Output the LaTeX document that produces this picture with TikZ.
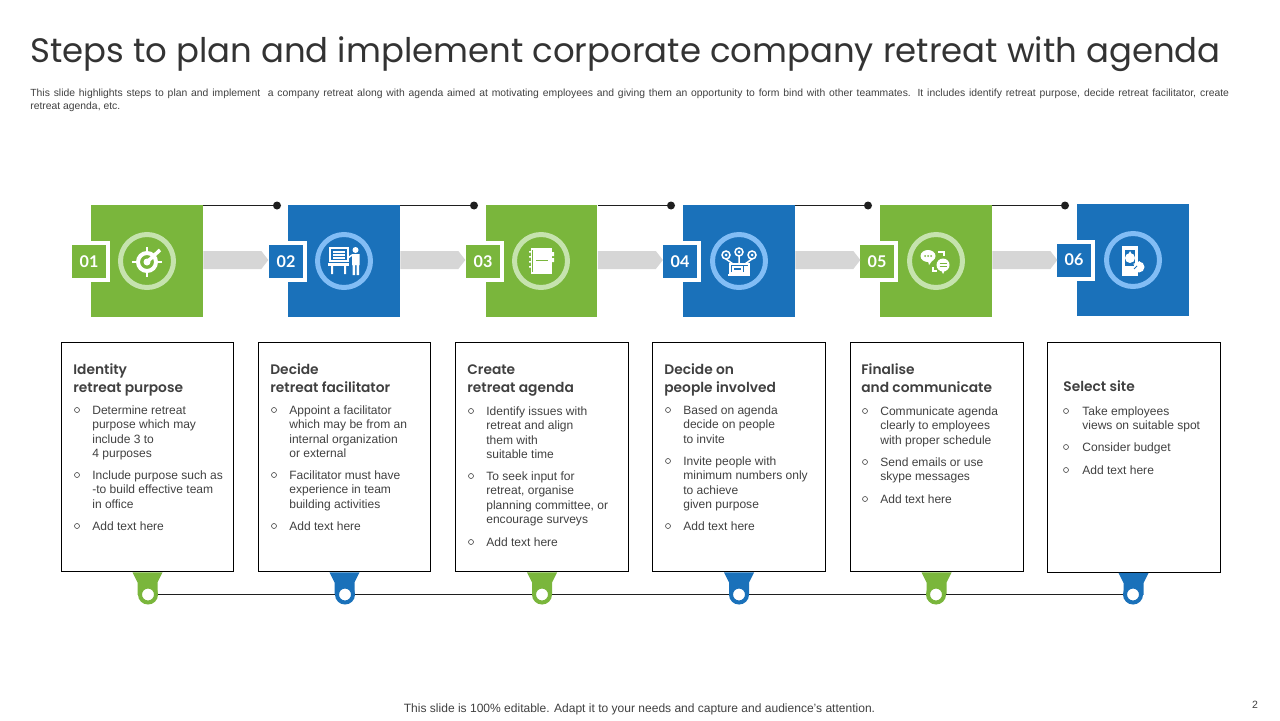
\documentclass[tikz,border=0pt]{standalone}
\usepackage{fontspec}
\usepackage{xcolor}
\setmainfont{Liberation Sans}
\newfontfamily\headfont{Poppins}[BoldFont={Poppins SemiBold}]
\newfontfamily\numfont{Lato}
\usetikzlibrary{calc,positioning}
\definecolor{stepgreen}{HTML}{7AB63C}
\definecolor{stepblue}{HTML}{1A71BA}
\definecolor{ringgreen}{HTML}{C6E3AE}
\definecolor{ringblue}{HTML}{82BDF5}
\definecolor{arrowgray}{HTML}{D6D6D6}
\definecolor{textgray}{HTML}{404040}
\definecolor{linedark}{HTML}{1F1F1F}
\tikzset{
  square/.style={minimum size=2.24cm,inner sep=0pt,fill=#1},
  numbox/.style={minimum width=0.76cm,minimum height=0.74cm,inner sep=0pt,fill=#1,draw=white,line width=0.08cm,
    text=white,font=\numfont\bfseries\fontsize{9.2}{10}\selectfont},
  ring/.style={circle,minimum size=1.06cm,inner sep=0pt,draw=#1,line width=0.1cm},
  dot/.style={circle,minimum size=0.16cm,inner sep=0pt,fill=linedark},
  card/.style={minimum width=3.46cm,minimum height=4.6cm,inner sep=0pt,draw=black,line width=0.02cm},
  heading/.style={anchor=north west,inner sep=0pt,align=left,text=textgray,font=\headfont\bfseries\fontsize{7.85}{10.2}\selectfont},
  item/.style={anchor=north west,inner sep=0pt,align=left,text=textgray,font=\fontsize{6.85}{8.25}\selectfont},
  bullet/.style={circle,minimum size=0.1cm,inner sep=0pt,draw=textgray,line width=0.012cm},
  tagdot/.style={circle,minimum size=0.32cm,inner sep=0pt,fill=white,draw=#1,line width=0.08cm},
  arrowbody/.style={fill=arrowgray},
  wire/.style={draw=linedark,line width=0.02cm},
  icon/.style={draw=white,line width=0.03cm,fill=none}
}
\begin{document}
\begin{tikzpicture}[x=0.02cm,y=-0.02cm]
\useasboundingbox (0,0) rectangle (1280,720);
    % header
    \node [anchor=west,inner sep=0pt,text=black!80,font=\headfont\fontsize{19.3}{24}\selectfont] (title) at (30,54.5) {Steps to plan and implement corporate company retreat with agenda};
    \node [anchor=north west,inner sep=0pt,text width=23.98cm,align=justify,text=textgray,font=\fontsize{5.9}{7.4}\selectfont] (intro) at (30,89) {This slide highlights steps to plan and implement\ \ a company retreat along with agenda aimed at motivating employees and giving them an opportunity to form bind with other teammates. It includes identify retreat purpose, decide retreat facilitator, create\linebreak retreat agenda, etc.};
    % squares
    \node [square=stepgreen] (sq1) at (147,261) {};
    \node [square=stepblue] (sq2) at (344,261) {};
    \node [square=stepgreen] (sq3) at (541.5,261) {};
    \node [square=stepblue] (sq4) at (739,261) {};
    \node [square=stepgreen] (sq5) at (936,261) {};
    \node [square=stepblue] (sq6) at (1133,260) {};
    % top dots
    \node [dot] (dot1) at (277,205.5) {};
    \node [dot] (dot2) at (474,205.5) {};
    \node [dot] (dot3) at (671,205.5) {};
    \node [dot] (dot4) at (868,205.5) {};
    \node [dot] (dot5) at (1065,205.5) {};
    \draw [wire] (sq1.north east |- dot1) -- (dot1);
    \draw [wire] (sq2.north east |- dot2) -- (dot2);
    \draw [wire] (sq3.north east |- dot3) -- (dot3);
    \draw [wire] (sq4.north east |- dot4) -- (dot4);
    \draw [wire] (sq5.north east |- dot5) -- (dot5);
    % numbers
    \node [numbox=stepgreen] (num1) at (89,261.5) {01};
    \node [numbox=stepblue] (num2) at (286,261.5) {02};
    \node [numbox=stepgreen] (num3) at (483,261.5) {03};
    \node [numbox=stepblue] (num4) at (680,261.5) {04};
    \node [numbox=stepgreen] (num5) at (877,261.5) {05};
    \node [numbox=stepblue] (num6) at (1074,260) {06};
    % gray arrows
    \fill [arrowbody] (sq1.east) ++(0,-10) -- ++(58,0) -- ++(7,9) -- ++(-7,9) -- ++(-58,0) -- cycle;
    \fill [arrowbody] (sq2.east) ++(0,-10) -- ++(58,0) -- ++(7,9) -- ++(-7,9) -- ++(-58,0) -- cycle;
    \fill [arrowbody] (sq3.east) ++(0,-10) -- ++(58,0) -- ++(7,9) -- ++(-7,9) -- ++(-58,0) -- cycle;
    \fill [arrowbody] (sq4.east) ++(0,-10) -- ++(58,0) -- ++(7,9) -- ++(-7,9) -- ++(-58,0) -- cycle;
    \fill [arrowbody] (sq5.east) ++(0,-10) -- ++(58,0) -- ++(7,9) -- ++(-7,9) -- ++(-58,0) -- cycle;
    % rings
    \node [ring=ringgreen] (ring1) at (147,261) {};
    \node [ring=ringblue] (ring2) at (344,261) {};
    \node [ring=ringgreen] (ring3) at (541,261) {};
    \node [ring=ringblue] (ring4) at (739,261) {};
    \node [ring=ringgreen] (ring5) at (936,261) {};
    \node [ring=ringblue] (ring6) at (1133,260) {};
    % icon target
    \begin{scope}[shift={(ring1.center)}]
      \draw [icon,line width=0.08cm] (0,1) circle (9);
      \fill [white] (0,1) circle (3.5);
      \draw [icon] (-15,1) -- (-9,1) (15,1) -- (9,1) (0,-14) -- (0,-8) (0,16) -- (0,10);
      \draw [icon,line width=0.07cm] (0,1) -- (13,-11);
    \end{scope}
    % icon presenter
    \begin{scope}[shift={(ring2.center)}]
      \draw [icon] (-14,-13) rectangle (4,0);
      \draw [icon] (-11,-9) -- (1,-9) (-11,-6) -- (1,-6) (-11,-3) -- (1,-3);
      \fill [white] (-16,2) rectangle (5,5);
      \fill [white] (-13,5) rectangle (-11,13) (0,5) rectangle (2,13);
      \fill [white] (11.5,-11) circle (3);
      \fill [white] (8,-7) rectangle (15.5,4) (8.5,4) rectangle (11,14) (12.5,4) rectangle (15,14);
      \draw [icon] (8,-6) -- (4,-3);
    \end{scope}
    % icon notebook
    \begin{scope}[shift={(ring3.center)}]
      \fill [white] (-10,-13) rectangle (11,13);
      \fill [white] (11,-9) rectangle (13,-5) (11,-3) rectangle (13,1);
      \fill [white] (-12,-10) rectangle (-10,-8.5) (-12,-5) rectangle (-10,-3.5) (-12,0) rectangle (-10,1.5) (-12,5) rectangle (-10,6.5);
      \draw [stepgreen,line width=0.02cm] (-5,-1) -- (7,-1);
      \draw [stepgreen,line width=0.01cm] (-9,-11) -- (-9,11);
    \end{scope}
    % icon people
    \begin{scope}[shift={(ring4.center)}]
      \draw [icon] (-13,-6) circle (4) (0,-9) circle (4) (13,-6) circle (4);
      \fill [white] (-13,-6) circle (1.5) (0,-9) circle (1.5) (13,-6) circle (1.5);
      \draw [icon] (-13,-2) -- (-6,3) (0,-5) -- (0,3) (13,-2) -- (6,3);
      \draw [icon] (-9,3) rectangle (10,12);
      \draw [icon] (-6,6) rectangle (3,10) (6,6) rectangle (8,10);
      \draw [icon] (-11,14) -- (11,14);
    \end{scope}
    % icon chat
    \begin{scope}[shift={(ring5.center)}]
      \fill [white] (-8,-5) ellipse (7.5 and 6) (-8,0) -- (-4,0) -- (-7,4) -- cycle;
      \fill [stepgreen] (-11,-5) circle (1) (-8,-5) circle (1) (-5,-5) circle (1);
      \fill [white] (7,4) circle (6.5) (5,9) -- (9,9) -- (7,13) -- cycle;
      \draw [stepgreen,line width=0.02cm] (3.5,2.5) -- (10.5,2.5) (3.5,5.5) -- (10.5,5.5);
      \draw [icon] (2,-9) -- (8,-9) -- (8,-5) (-3,6) -- (-3,10) -- (1,10);
    \end{scope}
    % icon phone
    \begin{scope}[shift={(ring6.center)}]
      \draw [icon,fill=white] (-10,-13) rectangle (4,15);
      \fill [stepblue] (-8,-10) rectangle (2,6);
      \fill [white] (-3,-2) circle (5) (-3,-9) -- (-1,-5) -- (-5,-5) -- cycle;
      \fill [white] (6,7) circle (5.5) (0,4) -- (7,1) -- (5,7) -- cycle;
      \draw [stepblue,line width=0.02cm] (1,9) -- (4,6);
    \end{scope}
    % cards
    \node [card] (card1) at (147.5,457) {};
    \node [card] (card2) at (344.5,457) {};
    \node [card] (card3) at (542,457) {};
    \node [card] (card4) at (739,457) {};
    \node [card] (card5) at (936.5,457) {};
    \node [card] (card6) at (1133.5,457.5) {};
    % card 1
    \node [heading] (head1) at (73,363) {Identity\\retreat purpose};
    \node [bullet] (b11) at (77,410) {};
    \node [item] (t11) at (92,405) {Determine retreat\\purpose which may\\include 3 to\\4 purposes};
    \node [bullet] (b12) at (77,475) {};
    \node [item] (t12) at (92,470) {Include purpose such as\\-to build effective team\\in office};
    \node [bullet] (b13) at (77,526) {};
    \node [item] (t13) at (92,521) {Add text here};
    % card 2
    \node [heading] (head2) at (270,363) {Decide\\retreat facilitator};
    \node [bullet] (b21) at (274,410) {};
    \node [item] (t21) at (289,405) {Appoint a facilitator\\which may be from an\\internal organization\\or external};
    \node [bullet] (b22) at (274,475) {};
    \node [item] (t22) at (289,470) {Facilitator must have\\experience in team\\building activities};
    \node [bullet] (b23) at (274,526) {};
    \node [item] (t23) at (289,521) {Add text here};
    % card 3
    \node [heading] (head3) at (467,364) {Create\\retreat agenda};
    \node [bullet] (b31) at (471,411) {};
    \node [item] (t31) at (486,406) {Identify issues with\\retreat and align\\them with\\suitable time};
    \node [bullet] (b32) at (471,476) {};
    \node [item] (t32) at (486,471) {To seek input for\\retreat, organise\\planning committee, or\\encourage surveys};
    \node [bullet] (b33) at (471,542) {};
    \node [item] (t33) at (486,537) {Add text here};
    % card 4
    \node [heading] (head4) at (664,363) {Decide on\\people involved};
    \node [bullet] (b41) at (668,410) {};
    \node [item] (t41) at (683,405) {Based on agenda\\decide on people\\to invite};
    \node [bullet] (b42) at (668,461) {};
    \node [item] (t42) at (683,456) {Invite people with\\minimum numbers only\\to achieve\\given purpose};
    \node [bullet] (b43) at (668,526) {};
    \node [item] (t43) at (683,521) {Add text here};
    % card 5
    \node [heading] (head5) at (861,363) {Finalise\\and communicate};
    \node [bullet] (b51) at (865,411) {};
    \node [item] (t51) at (880,406) {Communicate agenda\\clearly to employees\\with proper schedule};
    \node [bullet] (b52) at (865,462) {};
    \node [item] (t52) at (880,457) {Send emails or use\\skype messages};
    \node [bullet] (b53) at (865,499) {};
    \node [item] (t53) at (880,494) {Add text here};
    % card 6
    \node [heading] (head6) at (1063,380) {Select site};
    \node [bullet] (b61) at (1066,411) {};
    \node [item] (t61) at (1082,406) {Take employees\\views on suitable spot};
    \node [bullet] (b62) at (1066,447) {};
    \node [item] (t62) at (1082,442) {Consider budget};
    \node [bullet] (b63) at (1066,470) {};
    \node [item] (t63) at (1082,465) {Add text here};
    % tags
    \fill [stepgreen] (card1.south) ++(-15,0) -- ++(30,0) -- ++(-5,10) -- ++(0,12.5) -- ++(-20,0) -- ++(0,-12.5) -- cycle;
    \fill [stepblue] (card2.south) ++(-15,0) -- ++(30,0) -- ++(-5,10) -- ++(0,12.5) -- ++(-20,0) -- ++(0,-12.5) -- cycle;
    \fill [stepgreen] (card3.south) ++(-15,0) -- ++(30,0) -- ++(-5,10) -- ++(0,12.5) -- ++(-20,0) -- ++(0,-12.5) -- cycle;
    \fill [stepblue] (card4.south) ++(-15,0) -- ++(30,0) -- ++(-5,10) -- ++(0,12.5) -- ++(-20,0) -- ++(0,-12.5) -- cycle;
    \fill [stepgreen] (card5.south) ++(-15,0) -- ++(30,0) -- ++(-5,10) -- ++(0,12.5) -- ++(-20,0) -- ++(0,-12.5) -- cycle;
    \fill [stepblue] (card6.south) ++(-15,0) -- ++(30,0) -- ++(-5,10) -- ++(0,12) -- ++(-20,0) -- ++(0,-12) -- cycle;
    \node [tagdot=stepgreen] (tag1) at (148,594.5) {};
    \node [tagdot=stepblue] (tag2) at (345,594.5) {};
    \node [tagdot=stepgreen] (tag3) at (542,594.5) {};
    \node [tagdot=stepblue] (tag4) at (739,594.5) {};
    \node [tagdot=stepgreen] (tag5) at (936,594.5) {};
    \node [tagdot=stepblue] (tag6) at (1133,594.5) {};
    \draw [wire] (tag1) -- (tag2) -- (tag3) -- (tag4) -- (tag5) -- (tag6);
    % footer
    \node [inner sep=0pt,text=textgray,font=\fontsize{6.85}{8}\selectfont] (footer) at (639.5,709) {This slide is 100\% editable. Adapt it to your needs and capture and audience's attention.};
    \node [inner sep=0pt,text=textgray,font=\fontsize{6}{8}\selectfont] (page) at (1255,705) {2};
\end{tikzpicture}
\end{document}
